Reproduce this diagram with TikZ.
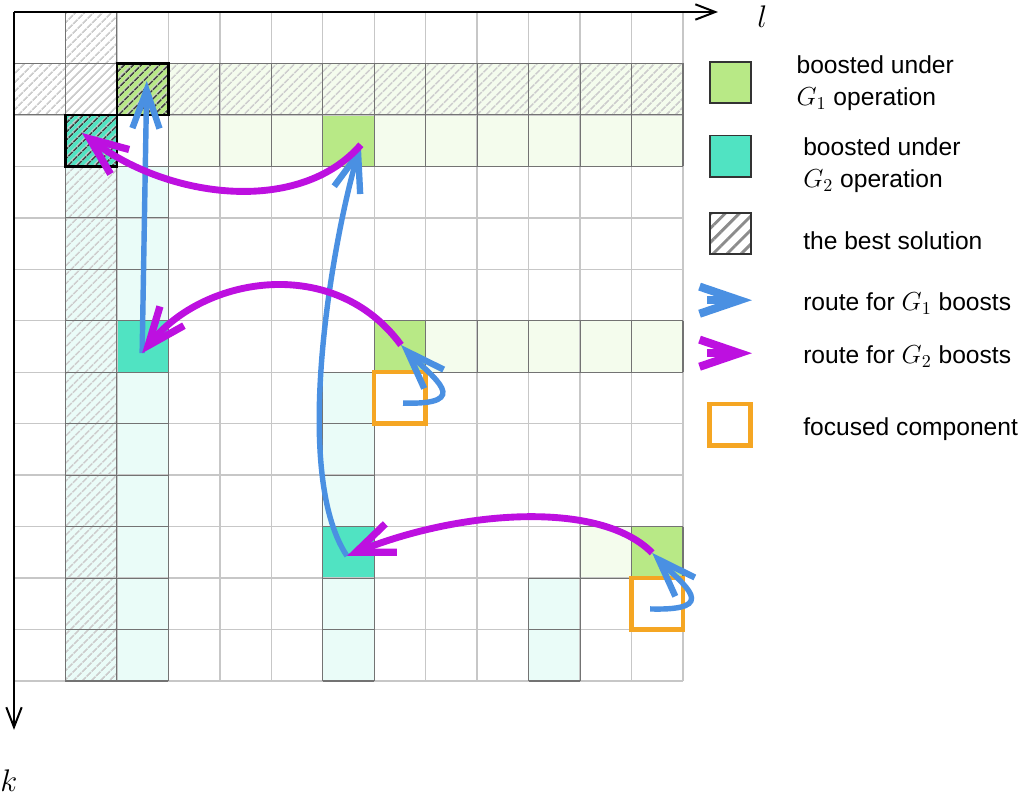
\documentclass[tikz,border=0pt]{standalone}
\usepackage{fontspec}
\setmainfont{Liberation Sans}
\usetikzlibrary{arrows.meta,patterns.meta}
\definecolor{gone}{HTML}{B8E986}
\definecolor{gtwo}{HTML}{50E3C2}
\definecolor{routeone}{HTML}{4A90E2}
\definecolor{routetwo}{HTML}{BD10E0}
\definecolor{focus}{HTML}{F5A623}
\colorlet{gonelight}{gone!15!white}
\colorlet{gtwolight}{gtwo!12!white}
\tikzset{
  cellline/.style={draw=black!55, line width=0.6pt},
  besthatch/.style={pattern={Lines[angle=45,distance=4pt,line width=1.1pt]}, pattern color=black!20},
  boosthatch/.style={pattern={Lines[angle=45,distance=4pt,line width=1.1pt]}, pattern color=black!75},
  oneroute/.style={routeone, line width=3pt, -{Straight Barb[length=21pt,width=15pt,line width=3.5pt]}},
  tworoute/.style={routetwo, line width=3.8pt, -{Straight Barb[length=21pt,width=17pt,line width=4pt]}},
  focusbox/.style={draw=focus, line width=2.5pt},
  axisline/.style={black, line width=1.1pt, -{Straight Barb[length=11pt,width=8.5pt,line width=1.1pt]}},
  legbox/.style={draw=black!80, line width=1pt, minimum size=0.8cm, inner sep=0pt},
  legtext/.style={anchor=west, align=left, inner sep=0pt, font=\fontsize{13.6}{17.6}\selectfont},
  axislabel/.style={inner sep=0pt, font=\fontsize{19}{23}\selectfont}
}
\begin{document}
\begin{tikzpicture}[x=1cm, y=-1cm]
\useasboundingbox (-0.272,-0.233) rectangle (19.549,15.274);
% tinted rows and columns
\fill[gonelight] (3,1) rectangle (13,3);
\fill[gonelight] (8,6) rectangle (13,7);
\fill[gonelight] (11,10) rectangle (12,11);
\fill[gtwolight] (1,2) rectangle (2,13);
\fill[gtwolight] (2,3) rectangle (3,13);
\fill[gtwolight] (6,7) rectangle (7,13);
\fill[gtwolight] (10,11) rectangle (11,13);
% boosted cells
\foreach \i/\j in {2/1, 6/2, 7/6, 12/10} \fill[gone] (\i,\j) rectangle +(1,1);
\foreach \i/\j in {1/2, 2/6, 6/10} \fill[gtwo] (\i,\j) rectangle +(1,1);
% best solution
\fill[besthatch] (0,1) rectangle (13,2);
\fill[besthatch] (1,0) rectangle (2,13);
\fill[boosthatch] (2,1) rectangle (3,2);
\fill[boosthatch] (1,2) rectangle (2,3);
\draw[black!22, line width=0.8pt] (0,0) grid (13,13);
\draw[cellline] (0,1) grid (13,2);
\draw[cellline] (3,2) grid (13,3);
\draw[cellline] (6,2) grid (7,3);
\draw[cellline] (1,0) grid (2,13);
\draw[cellline] (2,3) grid (3,13);
\draw[cellline] (7,6) grid (13,7);
\draw[cellline] (6,7) grid (7,13);
\draw[cellline] (11,10) grid (13,11);
\draw[cellline] (10,11) grid (11,13);
\draw[black, line width=1.3pt] (2,1) rectangle (3,2);
\draw[black, line width=1.3pt] (1,2) rectangle (2,3);
\draw[focusbox] (7,7) rectangle (8,8);
\draw[focusbox] (12,11) rectangle (13,12);
% axes
\coordinate (O) at (0,0);
\coordinate (lend) at (13.68,0);
\coordinate (kend) at (0,13.95);
\draw[axisline] (O) -- (lend);
\draw[axisline] (O) -- (kend);
\node[axislabel] (llab) at (14.54,0.09) {$l$};
\node[axislabel] (klab) at (-0.1,14.93) {$k$};
% route points
\coordinate (best1) at (2.58,1.34);
\coordinate (best2) at (1.32,2.35);
\coordinate (up1) at (6.74,2.58);
\coordinate (left1) at (2.49,6.63);
\coordinate (up2) at (7.52,6.47);
\coordinate (foc1) at (7.56,7.60);
\coordinate (left2) at (6.47,10.57);
\coordinate (up3) at (12.40,10.51);
\coordinate (foc2) at (12.36,11.60);
\draw[oneroute] (left1) -- (best1);
\draw[oneroute] (left2) .. controls (5.36,8.90) and (6.24,4.24) .. (up1);
\draw[tworoute] (up1) .. controls (5.56,3.94) and (3.03,3.65) .. (best2);
\draw[tworoute] (up2) .. controls (6.24,4.72) and (3.71,5.11) .. (left1);
\draw[tworoute] (up3) .. controls (11.39,9.48) and (8.67,9.68) .. (left2);
\draw[oneroute] (foc1) .. controls (8.96,7.64) and (8.12,7.09) .. (up2);
\draw[oneroute] (foc2) .. controls (13.76,11.64) and (13.0,11.13) .. (up3);
% legend
\node[legbox, fill=gone] (keyone) at (13.92,1.37) {};
\node[legbox, fill=gtwo] (keytwo) at (13.92,2.80) {};
\node[legbox, pattern={Lines[angle=45,distance=5.5pt,line width=1.6pt]}, pattern color=black!45] (keybest) at (13.92,4.30) {};
\coordinate (keyonea) at (13.47,5.60);
\coordinate (keyoneb) at (14.34,5.60);
\coordinate (keytwoa) at (13.47,6.63);
\coordinate (keytwob) at (14.34,6.63);
\draw[oneroute, line width=4.2pt, -{Straight Barb[length=22pt,width=15pt,line width=4.5pt]}] (keyonea) -- (keyoneb);
\draw[tworoute, line width=4.2pt, -{Straight Barb[length=22pt,width=15pt,line width=4.5pt]}] (keytwoa) -- (keytwob);
\node[legbox, focusbox] (keyfocus) at (13.91,8.02) {};
\node[legtext] (txtone) at (15.20,1.38) {boosted under\\$G_1$ operation};
\node[legtext] (txttwo) at (15.33,2.97) {boosted under\\$G_2$ operation};
\node[legtext] (txtbest) at (15.33,4.45) {the best solution};
\node[legtext] (txtrone) at (15.33,5.66) {route for $G_1$ boosts};
\node[legtext] (txtrtwo) at (15.33,6.69) {route for $G_2$ boosts};
\node[legtext] (txtfocus) at (15.33,8.10) {focused component};
\end{tikzpicture}
\end{document}
